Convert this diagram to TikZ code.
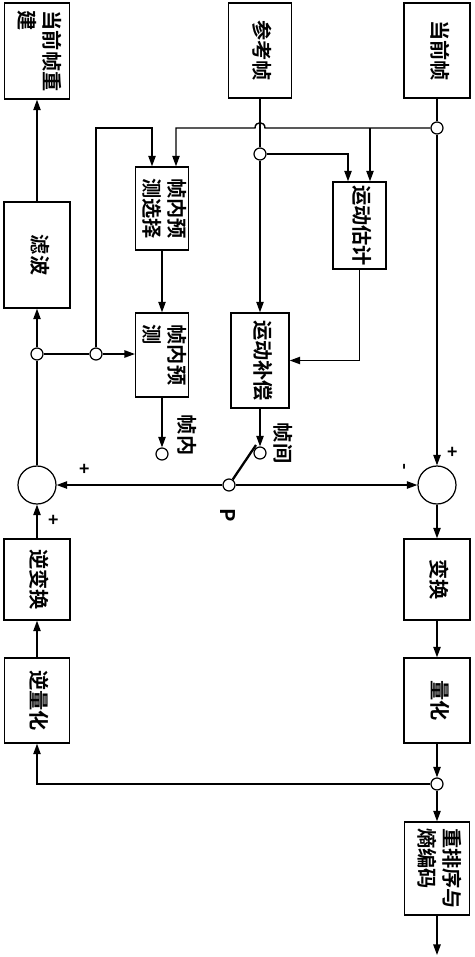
\documentclass[tikz,border=0pt]{standalone}
\usepackage{fontspec}
\usepackage{graphicx}
\newfontfamily\cjk{Noto Sans CJK SC Bold}
\usetikzlibrary{arrows.meta}
\newcommand\rottext[1]{\rotatebox{-90}{\begin{tabular}{@{}l@{}}#1\end{tabular}}}
\tikzset{
    blk/.style={draw, line width=0.8pt, inner sep=1pt, font=\cjk\fontsize{11.5}{14}\selectfont},
    jn/.style={draw, circle, line width=0.7pt, minimum size=0.24cm, inner sep=0pt},
    sumnode/.style={draw, circle, line width=0.7pt, minimum size=0.76cm, inner sep=0pt},
    arr/.style={-{Triangle[length=6pt,width=4.2pt]}},
    ln/.style={line width=0.8pt},
    lbl/.style={font=\cjk\fontsize{11.5}{14}\selectfont, inner sep=0pt, rotate=-90},
    sgn/.style={font=\cjk\fontsize{10}{12}\selectfont, inner sep=0pt}
}
\begin{document}
\begin{tikzpicture}[x=0.02cm, y=-0.02cm]
        \useasboundingbox (0,0) rectangle (474,957);

        % blocks
        \node[blk, minimum width=1.3cm, minimum height=1.92cm] (rebuild) at (37,51) {\rottext{当前帧重\\建}};
        \node[blk, minimum width=1.32cm, minimum height=2.12cm] (filter) at (37,255) {\rottext{滤波}};
        \node[blk, minimum width=1.04cm, minimum height=1.66cm] (isel) at (162,208.5) {\rottext{帧内预\\测选择}};
        \node[blk, minimum width=1.04cm, minimum height=1.68cm] (ipred) at (162,355) {\rottext{帧内预\\测}};
        \node[blk, minimum width=1.26cm, minimum height=1.9cm] (ref) at (260,50.5) {\rottext{参考帧}};
        \node[blk, minimum width=1.32cm, minimum height=1.9cm] (cur) at (437,50.5) {\rottext{当前帧}};
        \node[blk, minimum width=1.06cm, minimum height=1.74cm] (me) at (359.5,225.5) {\rottext{运动估计}};
        \node[blk, minimum width=1.16cm, minimum height=1.9cm] (mc) at (260,360.5) {\rottext{运动补偿}};
        \node[blk, minimum width=1.32cm, minimum height=1.62cm] (trans) at (437,579.5) {\rottext{变换}};
        \node[blk, minimum width=1.32cm, minimum height=1.7cm] (quant) at (437,700.5) {\rottext{量化}};
        \node[blk, minimum width=1.3cm, minimum height=1.86cm] (entropy) at (437,868.5) {\rottext{重排序与\\熵编码}};
        \node[blk, minimum width=1.3cm, minimum height=1.7cm] (iquant) at (37,700.5) {\rottext{逆量化}};
        \node[blk, minimum width=1.32cm, minimum height=1.62cm] (itrans) at (37,579.5) {\rottext{逆变换}};

        % junctions and adders
        \node[jn] (jcur) at (437,128) {};
        \node[jn] (jref) at (260,154) {};
        \node[jn] (jl1) at (37,354) {};
        \node[jn] (jl2) at (96,354) {};
        \node[jn] (intra) at (162,454) {};
        \node[jn] (inter) at (260,453) {};
        \node[jn] (swp) at (229,485) {};
        \node[jn] (jq) at (437,784) {};
        \node[sumnode] (sumL) at (37,485) {};
        \node[sumnode] (sumR) at (437,485) {};
        \coordinate (arm) at (256,445);
        \coordinate (out) at (437,955);

        % current frame and reference frame
        \draw[ln] (cur) -- (jcur);
        \draw[ln,arr] (jcur) -- (sumR);
        \draw[ln,arr] (jcur) -- ([xshift=0.1cm]jcur -| ref)
            .. controls ([xshift=0.1cm,yshift=0.14cm]jcur -| ref) and ([xshift=-0.1cm,yshift=0.14cm]jcur -| ref) .. ([xshift=-0.1cm]jcur -| ref)
            -- ([xshift=0.28cm]isel.north |- jcur) -- ([xshift=0.28cm]isel.north);
        \draw[ln,arr] ([xshift=0.21cm]me.north |- jcur) -- ([xshift=0.21cm]me.north);
        \draw[ln] (ref) -- (jref);
        \draw[ln,arr] (jref) -- (mc);
        \draw[ln,arr] (jref) -| ([xshift=-0.23cm]me.north);
        \draw[ln,arr] (me) |- (mc);
        \draw[ln,arr] (mc) -- (inter);

        % intra path
        \draw[ln,arr] (isel) -- (ipred);
        \draw[ln,arr] (ipred) -- (intra);
        \draw[ln,arr] (jl2) |- ([xshift=-0.2cm]isel.north |- jcur) -- ([xshift=-0.2cm]isel.north);
        \draw[ln] (sumL) -- (jl1);
        \draw[ln,arr] (jl1) -- (filter);
        \draw[ln] (jl1) -- (jl2);
        \draw[ln,arr] (jl2) -- (ipred.west |- jl2);
        \draw[ln,arr] (filter) -- (rebuild);

        % switch
        \draw[ln,arr] (swp) -- (sumL);
        \draw[ln,arr] (swp) -- (sumR);
        \draw[line width=1.3pt] (swp) -- (arm);

        % coding loop
        \draw[ln,arr] (sumR) -- (trans);
        \draw[ln,arr] (trans) -- (quant);
        \draw[ln,arr] (quant) -- (jq);
        \draw[ln,arr] (jq) -- (entropy);
        \draw[ln,arr] (entropy) -- (out);
        \draw[ln,arr] (jq) -| (iquant);
        \draw[ln,arr] (iquant) -- (itrans);
        \draw[ln,arr] (itrans) -- (sumL);

        % labels
        \node[lbl] (lintra) at (187,435) {帧内};
        \node[lbl] (linter) at (283,443) {帧间};
        \node[lbl] (lp) at (228,515) {P};
        \node[sgn] (pl1) at (85,470) {+};
        \node[sgn] (pl2) at (54,521) {+};
        \node[sgn] (pr1) at (453,453) {+};
        \node[sgn, rotate=-90] (mr1) at (402,467) {-};
\end{tikzpicture}
\end{document}
